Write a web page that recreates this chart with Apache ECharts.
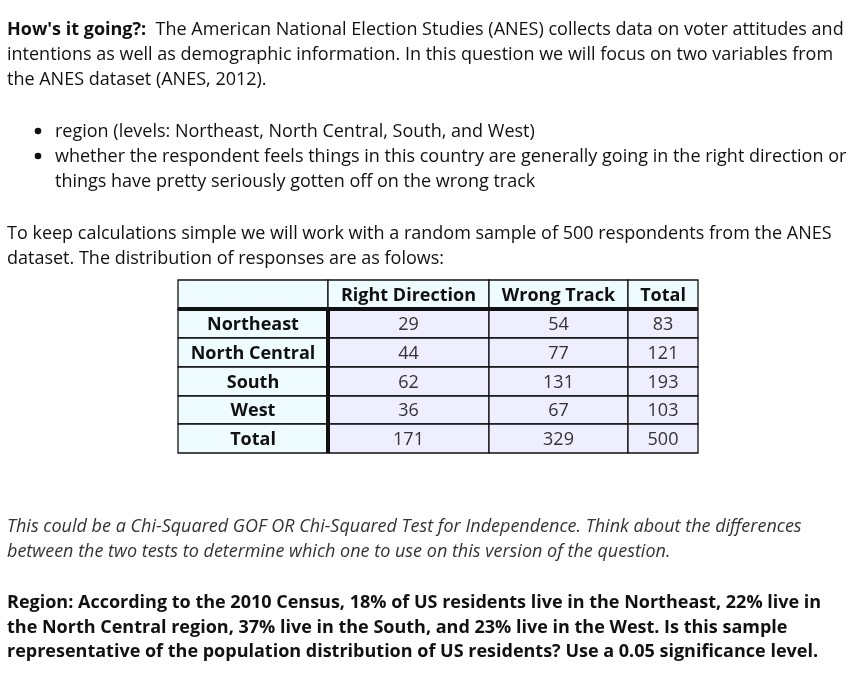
<!DOCTYPE html>
<html><head><meta charset="utf-8">
<script src="https://cdn.jsdelivr.net/npm/echarts@6/dist/echarts.min.js"></script>
<style>html,body{margin:0;padding:0;background:#fff}#c{width:861px;height:691px}</style>
</head><body><div id="c"></div>
<script>
const columns = ['', 'Right Direction', 'Wrong Track', 'Total'];
const regions = ['Northeast', 'North Central', 'South', 'West', 'Total'];
const rightDirection = [29, 44, 62, 36, 171];
const wrongTrack = [54, 77, 131, 67, 329];
const totals = [83, 121, 193, 103, 500];

const colEdges = [178, 328, 489, 628, 698];
const rowEdges = [280, 309, 338, 367, 396, 424, 453];

const cells = [];
columns.forEach((c, i) => cells.push([i, 0, c, 'h']));
regions.forEach((r, j) => {
  cells.push([0, j + 1, r, 'h']);
  cells.push([1, j + 1, String(rightDirection[j]), 'd']);
  cells.push([2, j + 1, String(wrongTrack[j]), 'd']);
  cells.push([3, j + 1, String(totals[j]), 'd']);
});

const F = '"Open Sans", sans-serif';
const fs = 18;
const dy = 1.5;
function t(x, y, text, opt) {
  return {type: 'text', x, y: y + dy, style: Object.assign({text, font: `${fs}px ${F}`, fill: '#111', textVerticalAlign: 'middle'}, opt || {})};
}
const texts = [
  {type: 'text', x: 7, y: 28 + dy, style: {rich: {b: {font: `bold ${fs}px ${F}`, fill: '#111'}, n: {font: `${fs}px ${F}`, fill: '#111'}}, text: '{b|How\'s it going?:}{n|  The American National Election Studies (ANES) collects data on voter attitudes and}', textVerticalAlign: 'middle'}},
  t(7, 53, 'intentions as well as demographic information. In this question we will focus on two variables from'),
  t(7, 78, 'the ANES dataset (ANES, 2012).'),
  {type: 'circle', shape: {cx: 38, cy: 131, r: 3.3}, style: {fill: '#111'}},
  t(55, 130, 'region (levels: Northeast, North Central, South, and West)'),
  {type: 'circle', shape: {cx: 38, cy: 156, r: 3.3}, style: {fill: '#111'}},
  t(55, 155, 'whether the respondent feels things in this country are generally going in the right direction or'),
  t(55, 180, 'things have pretty seriously gotten off on the wrong track'),
  t(7, 232, 'To keep calculations simple we will work with a random sample of 500 respondents from the ANES'),
  t(7, 257, 'dataset. The distribution of responses are as folows:'),
  t(7, 525, 'This could be a Chi-Squared GOF OR Chi-Squared Test for Independence. Think about the differences', {font: `italic ${fs}px ${F}`, fill: '#333'}),
  t(7, 550, 'between the two tests to determine which one to use on this version of the question.', {font: `italic ${fs}px ${F}`, fill: '#333'}),
  t(7, 601, 'Region: According to the 2010 Census, 18% of US residents live in the Northeast, 22% live in', {font: `bold ${fs}px ${F}`}),
  t(7, 626, 'the North Central region, 37% live in the South, and 23% live in the West. Is this sample', {font: `bold ${fs}px ${F}`}),
  t(7, 650, 'representative of the population distribution of US residents? Use a 0.05 significance level.', {font: `bold ${fs}px ${F}`})
];

const chart = echarts.init(document.getElementById('c'));
chart.setOption({
  animation: false,
  grid: {left: 178, top: 280, width: 520, height: 173},
  xAxis: {type: 'value', min: colEdges[0], max: colEdges[4], show: false},
  yAxis: {type: 'value', min: rowEdges[0], max: rowEdges[6], inverse: true, show: false},
  graphic: texts,
  series: [{
    type: 'custom',
    data: cells,
    renderItem: function (params, api) {
      const c = api.value(0), r = api.value(1);
      const item = cells[params.dataIndex];
      const p0 = api.coord([colEdges[c], rowEdges[r]]);
      const p1 = api.coord([colEdges[c + 1], rowEdges[r + 1]]);
      const head = item[3] === 'h';
      const children = [
        {type: 'rect', shape: {x: p0[0], y: p0[1], width: p1[0] - p0[0], height: p1[1] - p0[1]},
         style: {fill: head ? '#eefcff' : '#efeeff', stroke: '#111', lineWidth: 1.3}},
        {type: 'text', x: (p0[0] + p1[0]) / 2, y: (p0[1] + p1[1]) / 2 + 1,
         style: {text: item[2], align: 'center', verticalAlign: 'middle',
                 font: `${head ? 'bold ' : ''}${fs}px ${F}`, fill: head ? '#111' : '#333'}}
      ];
      if (r === 1) children.push({type: 'line', shape: {x1: p0[0], y1: p0[1], x2: p1[0], y2: p0[1]}, style: {stroke: '#111', lineWidth: 4}});
      if (c === 1 && r > 0) children.push({type: 'line', shape: {x1: p0[0], y1: p0[1], x2: p0[0], y2: p1[1]}, style: {stroke: '#111', lineWidth: 4}});
      return {type: 'group', children};
    }
  }]
});
</script></body></html>
